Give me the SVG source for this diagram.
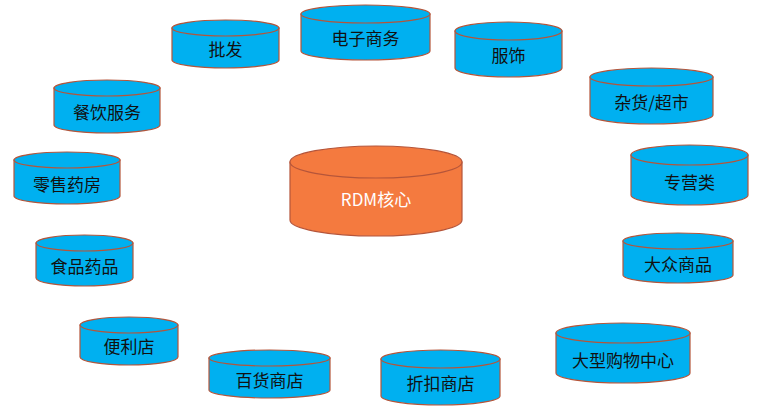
<svg xmlns="http://www.w3.org/2000/svg" width="774" height="413" viewBox="0 0 774 413">
<style>
.c path,.c ellipse{fill:#00B0F0;stroke:#B5553A;stroke-width:1.2}
.c text{font-family:"Noto Sans CJK SC","Liberation Sans",sans-serif;font-size:17px;fill:#111;text-anchor:middle;dominant-baseline:central}
#core path,#core ellipse{fill:#F47A3F;stroke:#B5553A;stroke-width:1.2}
#core text{fill:#fff}
</style>
<rect width="774" height="413" fill="#fff"/>
<g id="connectors"/>
<g id="n1" class="c"><path d="M172,28 L172,60 A53.5,8 0 0 0 279,60 L279,28 Z"/><ellipse cx="225.5" cy="28" rx="53.5" ry="8"/><text x="225.5" y="48">批发</text></g>
<g id="n2" class="c"><path d="M301,14 L301,51 A64.5,9 0 0 0 430,51 L430,14 Z"/><ellipse cx="365.5" cy="14" rx="64.5" ry="9"/><text x="365.5" y="37">电子商务</text></g>
<g id="n3" class="c"><path d="M455,31 L455,68 A53.5,9 0 0 0 562,68 L562,31 Z"/><ellipse cx="508.5" cy="31" rx="53.5" ry="9"/><text x="508.5" y="54">服饰</text></g>
<g id="n4" class="c"><path d="M590,77 L590,115 A61.5,9 0 0 0 713,115 L713,77 Z"/><ellipse cx="651.5" cy="77" rx="61.5" ry="9"/><text x="651.5" y="101">杂货/超市</text></g>
<g id="n5" class="c"><path d="M631,155 L631,195 A58.5,10 0 0 0 748,195 L748,155 Z"/><ellipse cx="689.5" cy="155" rx="58.5" ry="10"/><text x="689.5" y="181">专营类</text></g>
<g id="n6" class="c"><path d="M623,241 L623,275 A55,8 0 0 0 733,275 L733,241 Z"/><ellipse cx="678" cy="241" rx="55" ry="8"/><text x="678" y="263">大众商品</text></g>
<g id="n7" class="c"><path d="M556,333 L556,373 A67,10 0 0 0 690,373 L690,333 Z"/><ellipse cx="623" cy="333" rx="67" ry="10"/><text x="623" y="359">大型购物中心</text></g>
<g id="n8" class="c"><path d="M381,359 L381,396 A59.5,9 0 0 0 500,396 L500,359 Z"/><ellipse cx="440.5" cy="359" rx="59.5" ry="9"/><text x="440.5" y="382">折扣商店</text></g>
<g id="n9" class="c"><path d="M209,358 L209,390 A60.5,8 0 0 0 330,390 L330,358 Z"/><ellipse cx="269.5" cy="358" rx="60.5" ry="8"/><text x="269.5" y="379">百货商店</text></g>
<g id="n10" class="c"><path d="M80,325 L80,357 A49,8 0 0 0 178,357 L178,325 Z"/><ellipse cx="129" cy="325" rx="49" ry="8"/><text x="129" y="345">便利店</text></g>
<g id="n11" class="c"><path d="M36,243 L36,278 A48.5,8 0 0 0 133,278 L133,243 Z"/><ellipse cx="84.5" cy="243" rx="48.5" ry="8"/><text x="84.5" y="265">食品药品</text></g>
<g id="n12" class="c"><path d="M14,160 L14,196 A53,8 0 0 0 120,196 L120,160 Z"/><ellipse cx="67" cy="160" rx="53" ry="8"/><text x="67" y="183">零售药房</text></g>
<g id="n13" class="c"><path d="M54,88 L54,125 A53,8 0 0 0 160,125 L160,88 Z"/><ellipse cx="107" cy="88" rx="53" ry="8"/><text x="107" y="111">餐饮服务</text></g>
<g id="core" class="c"><path d="M290,162 L290,220 A86,16 0 0 0 462,220 L462,162 Z"/><ellipse cx="376" cy="162" rx="86" ry="16"/><text x="376" y="198">RDM核心</text></g>
</svg>
